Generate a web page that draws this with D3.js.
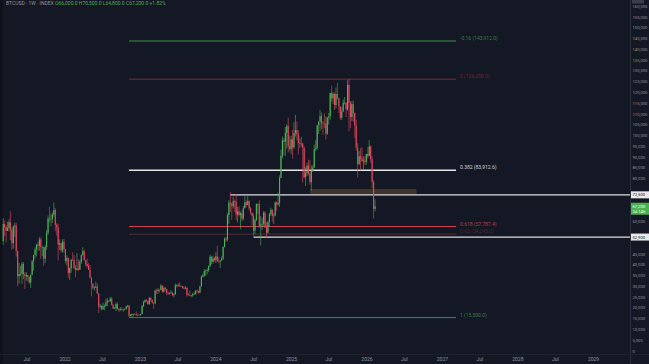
<!DOCTYPE html>
<html>
<head>
<meta charset="utf-8">
<script src="https://cdn.jsdelivr.net/npm/d3@7"></script>
<style>
  html, body { margin: 0; padding: 0; background: #141824; overflow: hidden; }
  svg { display: block; }
</style>
</head>
<body>
<div id="chart"></div>
<script>
// weekly BTC candles, prices in thousands of USD
var firstWeek = "2021-03-08";
var firstOpen = 51.0;

var closes = [
  59.0, 57.5, 55.8, 57.1, 59.8, 56.2, 50.1, 57.8, 58.2, 46.4, 34.7, 35.7, 35.8, 40.5, 35.6, 34.7, 35.3, 34.3, 31.8, 35.4, 41.6, 44.6, 47.1, 49.3, 48.8, 51.8, 48.3, 48.3, 42.8, 48.2, 54.9, 61.5, 61.3, 61.3, 63.3, 65.5, 58.6, 57.3, 49.4, 50.1, 46.7, 50.8, 47.3,
  41.8, 43.1, 36.3, 38.5, 42.4, 42.2, 38.4, 37.7, 38.4, 37.8, 41.3, 44.5, 46.4, 42.2, 40.4, 39.5, 37.7, 34.1, 31.3, 29.4, 29.4, 29.9, 26.6, 20.6, 21.0, 19.3, 20.8, 20.8, 22.6, 23.3, 23.2, 24.3, 21.5, 19.6, 19.8, 21.8, 19.4, 18.9, 19.3, 19.1, 19.2, 19.6, 20.6, 21.1, 16.3, 16.7, 17.2, 17.1, 17.1, 16.8, 16.8, 16.6,
  17.2, 20.9, 22.7, 23.7, 23.3, 21.8, 24.6, 23.6, 22.4, 22.1, 28.0, 27.9, 28.4, 28.3, 30.3, 27.6, 29.2, 28.8, 26.9, 26.7, 26.9, 27.1, 25.9, 26.3, 30.5, 30.6, 30.3, 30.3, 30.1, 29.3, 29.0, 29.3, 26.1, 26.0, 25.9, 25.8, 26.5, 26.5, 28.0, 27.9, 27.1, 30.0, 34.5, 35.0, 37.1, 37.4, 37.5, 39.5, 43.8, 41.4, 43.0, 42.3,
  43.9, 41.7, 41.6, 42.0, 43.0, 48.3, 52.1, 51.7, 63.1, 68.9, 68.4, 67.2, 69.6, 69.4, 63.4, 64.9, 63.1, 63.9, 61.5, 66.3, 69.0, 67.8, 69.6, 66.2, 64.2, 62.7, 55.9, 60.8, 68.2, 68.3, 58.1, 58.7, 59.0, 64.2, 57.3, 54.9, 59.9, 63.6, 65.6, 62.8, 62.9, 69.0, 68.0, 68.7, 80.4, 90.6, 97.9, 97.2, 101.2, 104.5, 95.1, 93.7, 98.3,
  94.5, 101.3, 102.6, 100.6, 96.5, 96.1, 96.3, 94.3, 80.7, 82.6, 86.1, 82.3, 78.4, 83.7, 85.2, 93.7, 94.3, 104.7, 106.5, 109.0, 105.7, 105.6, 105.5, 100.9, 108.4, 108.9, 119.8, 117.3, 119.4, 114.2, 119.3, 117.4, 113.5, 108.3, 111.2, 115.3, 115.3, 112.2, 123.5, 115.1, 108.6, 114.6, 110.5, 104.7, 94.4, 86.8, 90.4, 89.3, 88.2, 88.4, 87.8, 91.5,
  90.5, 95.0, 89.0, 78.6, 66.0, 67.2
];
var highs = [
  61.7, 60.6, 58.4, 60.0, 61.1, 64.9, 57.5, 58.4, 59.6, 59.6, 46.6, 40.8, 39.5, 41.3, 41.3, 36.6, 36.6, 35.1, 34.7, 35.4, 42.3, 44.7, 48.1, 49.8, 50.5, 52.9, 52.9, 48.8, 48.0, 49.2, 56.1, 62.9, 67.0, 63.7, 64.3, 69.0, 66.3, 59.3, 59.1, 51.9, 49.5, 51.9, 52.0,
  47.5, 44.4, 43.5, 38.9, 42.6, 45.8, 44.5, 39.8, 45.4, 42.5, 42.3, 44.8, 48.2, 47.1, 42.4, 42.9, 40.8, 39.9, 34.2, 30.7, 30.2, 32.2, 31.5, 26.9, 22.0, 21.5, 22.4, 21.6, 24.3, 24.6, 23.6, 25.2, 25.0, 21.8, 20.5, 22.6, 22.6, 19.9, 20.3, 20.4, 19.6, 19.7, 21.0, 21.4, 21.4, 17.2, 17.3, 17.4, 17.4, 18.4, 17.0, 16.9,
  17.2, 21.3, 23.3, 23.9, 24.2, 23.4, 25.2, 25.0, 24.0, 22.6, 28.5, 28.9, 29.2, 28.8, 31.0, 30.5, 30.0, 29.9, 28.9, 27.6, 27.4, 28.4, 27.3, 26.8, 31.4, 31.0, 31.5, 31.8, 30.3, 30.0, 30.0, 30.2, 29.7, 26.8, 28.1, 26.0, 26.9, 27.5, 28.1, 28.6, 27.9, 30.3, 35.2, 35.9, 38.0, 37.9, 38.4, 39.7, 44.7, 44.0, 44.3, 43.8,
  45.9, 49.0, 43.5, 42.2, 43.9, 48.6, 52.8, 52.9, 64.0, 70.1, 73.8, 68.9, 71.7, 70.3, 72.8, 66.9, 67.2, 64.7, 65.5, 67.4, 71.9, 70.0, 71.9, 70.0, 66.9, 63.8, 63.8, 61.4, 68.4, 68.5, 70.0, 62.7, 61.8, 65.0, 64.9, 59.8, 60.6, 64.1, 66.5, 65.0, 64.0, 69.4, 69.5, 73.6, 81.5, 93.5, 99.6, 98.9, 104.0, 105.3, 108.4, 99.9, 99.9,
  102.7, 106.4, 109.6, 106.5, 102.5, 98.8, 99.5, 96.5, 95.0, 85.3, 87.4, 88.8, 88.5, 86.1, 86.5, 95.8, 97.9, 105.0, 106.6, 111.9, 110.7, 106.8, 110.4, 108.9, 108.5, 110.5, 119.9, 123.2, 120.2, 119.8, 122.3, 124.5, 117.6, 113.4, 113.4, 116.8, 117.9, 115.4, 125.7, 126.2, 116.0, 116.0, 116.4, 110.7, 107.4, 96.6, 93.0, 94.2, 94.6, 90.4, 90.5, 91.5,
  94.8, 97.9, 95.5, 90.5, 79.3, 70.5
];
var lows = [
  49.3, 53.3, 50.4, 55.8, 55.5, 51.5, 47.0, 47.5, 53.0, 43.8, 30.0, 31.2, 34.8, 31.0, 33.3, 28.8, 32.7, 32.3, 31.1, 29.3, 35.2, 37.3, 43.0, 43.9, 46.3, 46.6, 42.8, 44.0, 39.6, 40.8, 46.9, 53.9, 59.7, 57.8, 59.4, 62.3, 55.6, 53.5, 42.0, 46.8, 45.7, 45.6, 45.7,
  40.6, 39.6, 34.0, 32.9, 36.3, 41.8, 37.9, 34.3, 37.3, 37.2, 37.6, 40.5, 44.2, 41.9, 39.2, 38.6, 37.7, 33.7, 25.4, 28.7, 28.0, 29.3, 26.6, 17.6, 19.7, 18.8, 19.3, 18.9, 20.8, 20.8, 22.5, 22.7, 21.0, 19.6, 19.6, 18.5, 19.3, 18.1, 18.8, 18.9, 18.2, 18.9, 19.2, 20.1, 15.6, 16.0, 15.5, 16.0, 16.9, 16.3, 16.4, 16.4,
  16.5, 17.2, 20.4, 22.3, 22.6, 21.4, 21.4, 22.8, 21.9, 19.6, 21.9, 26.6, 26.5, 27.2, 28.2, 27.1, 27.0, 27.7, 25.8, 26.1, 25.9, 26.5, 25.4, 24.8, 26.2, 29.5, 29.7, 29.9, 29.5, 28.9, 28.6, 28.7, 25.2, 25.8, 25.4, 24.9, 25.2, 26.2, 26.0, 27.2, 26.6, 26.9, 29.9, 34.1, 34.5, 34.8, 35.6, 36.7, 39.0, 40.2, 40.6, 41.5,
  40.8, 41.5, 40.7, 38.5, 41.9, 42.3, 48.0, 50.6, 50.9, 59.0, 64.6, 60.8, 66.2, 64.5, 60.7, 59.6, 62.4, 56.5, 60.2, 60.7, 66.6, 66.6, 68.5, 65.1, 63.4, 58.4, 53.5, 54.3, 60.3, 63.5, 57.2, 49.0, 56.1, 57.9, 57.2, 52.6, 54.6, 57.6, 62.7, 59.9, 58.9, 62.5, 65.1, 67.5, 66.8, 80.2, 89.4, 90.8, 90.5, 94.1, 92.2, 92.7, 91.4,
  89.3, 93.7, 99.5, 97.8, 91.2, 94.1, 94.8, 78.2, 80.0, 76.6, 81.2, 81.6, 77.2, 74.4, 83.1, 85.1, 92.9, 93.4, 100.7, 102.1, 103.1, 100.4, 103.4, 98.2, 100.3, 105.1, 107.4, 115.7, 114.7, 111.9, 112.6, 116.8, 110.6, 107.3, 107.3, 110.9, 114.4, 108.6, 111.5, 102.0, 103.5, 106.7, 106.3, 98.9, 93.0, 80.6, 86.2, 83.8, 87.6, 84.5, 86.4, 86.5,
  89.3, 90.9, 87.3, 75.5, 61.5, 64.8
];

// fib retracement drawn from the 2022 low to the 2025 high
var fibHigh = 126.2;
var fibLow = 15.5;
var fibLevels = [-0.16, 0, 0.382, 0.618, 0.65, 1];
var fibColors = ["#3f8f4c", "#7a2c3b", "#e6e6e6", "#cf4458", "#5a2a35", "#3f8a4a"];
var fibStart = "2022-11-07";
var fibEnd = "2027-03-08";

// white range lines + brown zone
var rangeTop = { price: 72.5, from: "2024-03-11" };
var rangeBottom = { price: 52.9, from: "2024-07-01" };
var zone = { top: 75.2, bottom: 72.9, from: "2025-04-01", to: "2026-08-29" };

var priceTicks = d3.range(0, 161, 5);
var timeTicks = ["2021-07-01", "2022-01-01", "2022-07-01", "2023-01-01", "2023-07-01", "2024-01-01", "2024-07-01",
                 "2025-01-01", "2025-07-01", "2026-01-01", "2026-07-01", "2027-01-01", "2027-07-01", "2028-01-01",
                 "2028-07-01", "2029-01-01"];

var W = 649, H = 364;
var plotRight = 630;
var upColor = "#4fb35a", downColor = "#e24a5e";
var axisText = "#8f939e";
var font = "Roboto, 'Liberation Sans', sans-serif";

var svg = d3.select("#chart").append("svg").attr("width", W).attr("height", H);
svg.append("rect").attr("width", W).attr("height", H).attr("fill", "#141824");
svg.append("rect").attr("width", 3).attr("height", H).attr("fill", "#0f121a");

var x = d3.scaleUtc()
    .domain([new Date("2022-01-01"), new Date("2029-01-01")])
    .range([65, 593.5]);
var y = d3.scaleLinear().domain([0, 160]).range([351, 351 - 160 * 2.154]);

var parse = function(s) { return new Date(s); };

// build candles
var start = parse(firstWeek);
var candles = closes.map(function(c, i) {
    var o = i === 0 ? firstOpen : closes[i - 1];
    return {
        t: d3.utcMonday.offset(start, i),
        o: o, c: c,
        h: Math.max(highs[i], o, c),
        l: Math.min(lows[i], o, c)
    };
});
var last = candles[candles.length - 1];

var plot = svg.append("g");
plot.append("clipPath").attr("id", "clip").append("rect").attr("x", 0).attr("y", 0).attr("width", plotRight).attr("height", 354);
var g = plot.append("g").attr("clip-path", "url(#clip)");

// zone
g.append("rect")
    .attr("x", x(parse(zone.from)))
    .attr("y", y(zone.top))
    .attr("width", x(parse(zone.to)) - x(parse(zone.from)))
    .attr("height", y(zone.bottom) - y(zone.top))
    .attr("fill", "#45392b").attr("opacity", 0.85);

// fib lines
var fibPrice = function(l) { return fibHigh - l * (fibHigh - fibLow); };
var fmt = d3.format(",.1f");
fibLevels.forEach(function(l, i) {
    var yy = y(fibPrice(l));
    g.append("line")
        .attr("x1", x(parse(fibStart))).attr("x2", x(parse(fibEnd)))
        .attr("y1", yy).attr("y2", yy)
        .attr("stroke", fibColors[i])
        .attr("stroke-width", l === 0.382 ? 1.3 : 1);
    g.append("text")
        .attr("x", x(parse(fibEnd)) + 4).attr("y", yy - 1)
        .attr("fill", fibColors[i]).attr("opacity", 0.85)
        .attr("font-family", font).attr("font-size", 5)
        .text(l + " (" + fmt(fibPrice(l) * 1000) + ")");
});

// range lines
[rangeTop, rangeBottom].forEach(function(r) {
    g.append("line")
        .attr("x1", x(parse(r.from))).attr("x2", plotRight)
        .attr("y1", y(r.price)).attr("y2", y(r.price))
        .attr("stroke", "#dcdde2").attr("stroke-width", 1.2);
});

// candles
var cg = g.append("g");
cg.selectAll("line.wick").data(candles).enter().append("line")
    .attr("class", "wick")
    .attr("x1", function(d) { return x(d.t); })
    .attr("x2", function(d) { return x(d.t); })
    .attr("y1", function(d) { return y(d.h); })
    .attr("y2", function(d) { return y(d.l); })
    .attr("stroke", function(d) { return d.c >= d.o ? upColor : downColor; })
    .attr("stroke-width", 0.6);
cg.selectAll("rect.body").data(candles).enter().append("rect")
    .attr("class", "body")
    .attr("x", function(d) { return x(d.t) - 0.55; })
    .attr("width", 1.1)
    .attr("y", function(d) { return y(Math.max(d.o, d.c)); })
    .attr("height", function(d) { return Math.max(0.6, Math.abs(y(d.o) - y(d.c))); })
    .attr("fill", function(d) { return d.c >= d.o ? upColor : downColor; });

// price axis
svg.append("line").attr("x1", plotRight + 0.5).attr("x2", plotRight + 0.5).attr("y1", 0).attr("y2", H)
    .attr("stroke", "#2a2e39");
var tagPrices = [rangeTop.price, rangeBottom.price, last.c];
var freeTicks = priceTicks.filter(function(p) {
    return tagPrices.every(function(t) { return Math.abs(y(p) - y(t)) > 7; });
});
var pfmt = d3.format(",.0f");
svg.append("g").selectAll("text").data(freeTicks).enter().append("text")
    .attr("x", plotRight + 2.5).attr("y", function(d) { return y(d) + 1.5; })
    .attr("fill", axisText).attr("font-family", font).attr("font-size", 4.2)
    .text(function(d) { return pfmt(d * 1000); });

// top corner tag
svg.append("rect").attr("x", plotRight + 2).attr("y", 0).attr("width", 12).attr("height", 3.5).attr("fill", "#3a3e49");

// price tags
function tag(price, fill, textFill, rows) {
    var hgt = rows.length * 5 + 2;
    var yy = y(price);
    svg.append("rect").attr("x", plotRight + 1).attr("y", yy - 3.5).attr("width", W - plotRight).attr("height", hgt)
        .attr("fill", fill);
    rows.forEach(function(r, i) {
        svg.append("text").attr("x", plotRight + 2.5).attr("y", yy + 1.5 + i * 5)
            .attr("fill", textFill).attr("font-family", font).attr("font-size", 4.2).text(r);
    });
}
tag(rangeTop.price, "#e8e9ed", "#131722", [pfmt(rangeTop.price * 1000)]);
tag(rangeBottom.price, "#e8e9ed", "#131722", [pfmt(rangeBottom.price * 1000)]);
tag(last.c, last.c >= last.o ? "#4caf50" : "#f23645", "#ffffff", [pfmt(last.c * 1000), "2d 14h"]);

// time axis
svg.append("line").attr("x1", 0).attr("x2", W).attr("y1", 354.5).attr("y2", 354.5).attr("stroke", "#1e222d");
svg.append("g").selectAll("text").data(timeTicks).enter().append("text")
    .attr("x", function(d) { return x(parse(d)); })
    .attr("y", 361)
    .attr("text-anchor", "middle")
    .attr("fill", axisText).attr("font-family", font).attr("font-size", 5)
    .text(function(d) { var dt = parse(d); return dt.getUTCMonth() === 0 ? dt.getUTCFullYear() : "Jul"; });

// legend
var leg = svg.append("text").attr("x", 6).attr("y", 5).attr("font-family", font).attr("font-size", 5);
leg.append("tspan").attr("fill", axisText).text("BTCUSD · 1W · INDEX  ");
leg.append("tspan").attr("fill", "#4caf50")
    .text("O" + d3.format(",.1f")(last.o * 1000) + " H" + d3.format(",.1f")(last.h * 1000) +
          " L" + d3.format(",.1f")(last.l * 1000) + " C" + d3.format(",.1f")(last.c * 1000) +
          " +" + d3.format(".2%")((last.c - last.o) / last.o).replace("%", "") + "%");
</script>
</body>
</html>
